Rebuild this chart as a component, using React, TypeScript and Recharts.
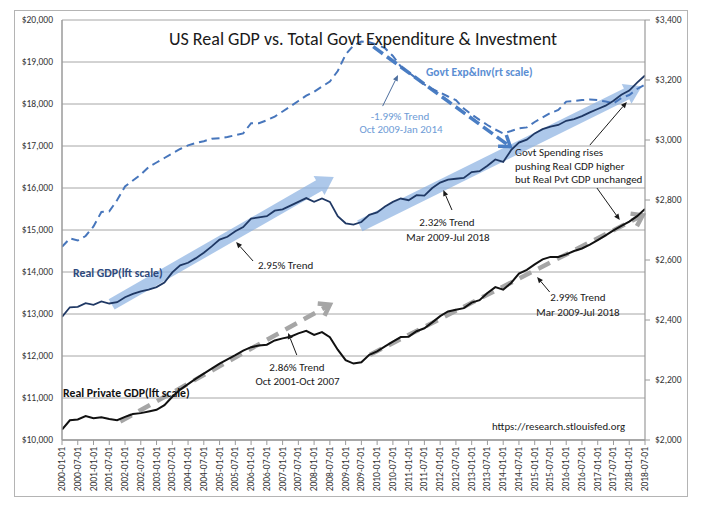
import React from "react";
import { ComposedChart, Line, XAxis, YAxis, CartesianGrid, ReferenceLine } from "recharts";

// Quarterly observation dates, 2000-01-01 through 2018-07-01
const quarters: string[] = [];
for (let y = 2000; y <= 2018; y++) {
  for (const m of ["01", "04", "07", "10"]) quarters.push(`${y}-${m}-01`);
}
quarters.length = 75;

// Real GDP, billions of chained dollars (left scale)
const realGdp = [
  12930, 13160, 13170, 13260, 13220, 13300, 13250, 13280, 13400, 13480,
  13540, 13580, 13640, 13750, 13990, 14160, 14220, 14330, 14460, 14610,
  14770, 14840, 14970, 15070, 15270, 15300, 15330, 15460, 15490, 15580,
  15670, 15760, 15670, 15750, 15670, 15330, 15160, 15130, 15190, 15360,
  15420, 15560, 15670, 15750, 15710, 15830, 15820, 16000, 16130, 16200,
  16220, 16240, 16380, 16400, 16530, 16680, 16620, 16900, 17080, 17150,
  17300, 17400, 17460, 17500, 17600, 17640, 17710, 17800, 17880, 17960,
  18080, 18220, 18320, 18510, 18680,
];

// Real private GDP (left scale)
const realPrivateGdp = [
  10250, 10470, 10490, 10570, 10520, 10540, 10500, 10470, 10550, 10620,
  10640, 10680, 10720, 10830, 11030, 11200, 11330, 11460, 11580, 11700,
  11820, 11920, 12020, 12130, 12210, 12250, 12270, 12370, 12420, 12460,
  12540, 12600, 12500, 12570, 12450, 12150, 11900, 11820, 11850, 12030,
  12110, 12230, 12340, 12450, 12460, 12590, 12660, 12800, 12950, 13060,
  13100, 13140, 13270, 13330, 13500, 13640, 13580, 13740, 13960, 14050,
  14180, 14300, 14360, 14360, 14420, 14500, 14560, 14650, 14760, 14870,
  14990, 15100, 15200, 15330, 15500,
];

// Total government expenditure & investment (right scale)
const govtExpInv = [
  2644, 2672, 2665, 2680, 2712, 2760, 2762, 2800, 2845, 2865,
  2885, 2910, 2925, 2940, 2955, 2970, 2982, 2990, 2996, 3004,
  3006, 3010, 3016, 3022, 3056, 3056, 3066, 3078, 3095, 3112,
  3130, 3148, 3161, 3178, 3195, 3230, 3285, 3315, 3328, 3326,
  3318, 3306, 3280, 3245, 3225, 3205, 3185, 3170, 3158, 3145,
  3133, 3105, 3085, 3067, 3050, 3035, 3022, 3030, 3039, 3042,
  3060, 3075, 3090, 3100, 3128, 3130, 3133, 3135, 3133, 3128,
  3122, 3140, 3150, 3170, 3185,
];

const leftTicks = [10000, 11000, 12000, 13000, 14000, 15000, 16000, 17000, 18000, 19000, 20000];
const rightTicks = [2000, 2200, 2400, 2600, 2800, 3000, 3200, 3400];
const dateTicks = quarters.map((_, i) => i).filter((i) => i % 2 === 0);

type Pt = { x: number; y: number };

// Trend arrows: [start, end] in (quarter index, value)
const gdpTrends: Pt[][] = [
  [{ x: 6.3, y: 13230 }, { x: 34.5, y: 16260 }],
  [{ x: 37.8, y: 15100 }, { x: 73.6, y: 18420 }],
];
const privateTrends: Pt[][] = [
  [{ x: 7.4, y: 10440 }, { x: 34, y: 13220 }],
  [{ x: 39.1, y: 12030 }, { x: 73.7, y: 15350 }],
];
const govtTrend: Pt[] = [{ x: 39.5, y: 3311 }, { x: 56.9, y: 2978 }];

// Callout pointers: [tail, head]
const leftCallouts: Pt[][] = [
  [{ x: 24.25, y: 14262 }, { x: 22.1, y: 14714 }],
  [{ x: 49.5, y: 15476 }, { x: 48.4, y: 15952 }],
  [{ x: 29.8, y: 12024 }, { x: 28.7, y: 12548 }],
  [{ x: 61.9, y: 13524 }, { x: 60.3, y: 13881 }],
  [{ x: 67.9, y: 16000 }, { x: 70.8, y: 15238 }],
];
const rightCallouts: Pt[][] = [
  [{ x: 40.7, y: 3113 }, { x: 42.65, y: 3217 }],
  [{ x: 67.0, y: 2983 }, { x: 71.7, y: 3127 }],
];

const rows = quarters.map((date, i) => ({
  idx: i,
  date,
  gdp: realGdp[i],
  pvt: realPrivateGdp[i],
  govt: govtExpInv[i],
}));

const FONT = "Carlito, Lato, 'Open Sans', sans-serif";

function unit(x1: number, y1: number, x2: number, y2: number) {
  const dx = x2 - x1;
  const dy = y2 - y1;
  const len = Math.hypot(dx, dy) || 1;
  return { ux: dx / len, uy: dy / len, nx: -dy / len, ny: dx / len };
}

function FatArrow(props: any) {
  const { x1, y1, x2, y2 } = props;
  const { ux, uy, nx, ny } = unit(x1, y1, x2, y2);
  const shaft = 12;
  const head = 22;
  const headLen = 17;
  const bx = x2 - ux * headLen;
  const by = y2 - uy * headLen;
  const pts = [
    [x1 + (nx * shaft) / 2, y1 + (ny * shaft) / 2],
    [bx + (nx * shaft) / 2, by + (ny * shaft) / 2],
    [bx + (nx * head) / 2, by + (ny * head) / 2],
    [x2, y2],
    [bx - (nx * head) / 2, by - (ny * head) / 2],
    [bx - (nx * shaft) / 2, by - (ny * shaft) / 2],
    [x1 - (nx * shaft) / 2, y1 - (ny * shaft) / 2],
  ];
  return <polygon points={pts.map((p) => p.join(",")).join(" ")} fill="#8DB3E2" fillOpacity={0.72} />;
}

function makeDashedArrow(color: string, width: number, dash: string, size: number) {
  return (props: any) => {
    const { x1, y1, x2, y2 } = props;
    const { ux, uy, nx, ny } = unit(x1, y1, x2, y2);
    const ex = x2 - ux * width * 0.6;
    const ey = y2 - uy * width * 0.6;
    const ax = x2 - ux * size;
    const ay = y2 - uy * size;
    return (
      <g>
        <line x1={x1} y1={y1} x2={ex} y2={ey} stroke={color} strokeWidth={width} strokeDasharray={dash} />
        <polyline
          points={`${ax + nx * size * 0.7},${ay + ny * size * 0.7} ${x2},${y2} ${ax - nx * size * 0.7},${ay - ny * size * 0.7}`}
          fill="none"
          stroke={color}
          strokeWidth={width}
          strokeLinejoin="miter"
        />
      </g>
    );
  };
}

function makeThinArrow(color: string) {
  return (props: any) => {
    const { x1, y1, x2, y2 } = props;
    const { ux, uy, nx, ny } = unit(x1, y1, x2, y2);
    const L = 6;
    const W = 2.6;
    const bx = x2 - ux * L;
    const by = y2 - uy * L;
    return (
      <g>
        <line x1={x1} y1={y1} x2={bx} y2={by} stroke={color} strokeWidth={1} />
        <polygon
          points={`${x2},${y2} ${bx + nx * W},${by + ny * W} ${bx - nx * W},${by - ny * W}`}
          fill={color}
        />
      </g>
    );
  };
}

const GrayArrow = makeDashedArrow("#A6A6A6", 4.5, "13 8", 10);
const GovtArrow = makeDashedArrow("#4A7EC4", 3.5, "12 5", 10);
const BlackPointer = makeThinArrow("#1a1a1a");
const BluePointer = makeThinArrow("#4D6E9E");

const DateTick = (props: any) => {
  const { x, y, payload } = props;
  return (
    <text
      transform={`translate(${x},${y}) rotate(-90)`}
      textAnchor="end"
      dominantBaseline="central"
      fontSize={9.5}
      fill="#333"
      fontFamily={FONT}
    >
      {quarters[payload.value]}
    </text>
  );
};

const money = (v: number) => "$" + v.toLocaleString("en-US");

type Note = { x: number; y: number; text: string; anchor?: "start" | "middle" | "end"; size?: number; weight?: number; color?: string };
const notes: Note[] = [
  { x: 363, y: 45, text: "US Real GDP vs. Total Govt Expenditure & Investment", anchor: "middle", size: 18, color: "#1a1a1a" },
  { x: 426, y: 76, text: "Govt Exp&Inv(rt scale)", size: 11.5, weight: 700, color: "#5B8ED3" },
  { x: 400, y: 120, text: "-1.99% Trend", anchor: "middle", size: 11, color: "#6E9BD6" },
  { x: 401, y: 133, text: "Oct 2009-Jan 2014", anchor: "middle", size: 11, color: "#6E9BD6" },
  { x: 515, y: 156, text: "Govt Spending rises", size: 11, color: "#1a1a1a" },
  { x: 515, y: 170, text: "pushing Real GDP higher", size: 11, color: "#1a1a1a" },
  { x: 515, y: 183, text: "but Real Pvt GDP unchanged", size: 11, color: "#1a1a1a" },
  { x: 447, y: 226, text: "2.32% Trend", anchor: "middle", size: 11, color: "#1a1a1a" },
  { x: 448, y: 241, text: "Mar 2009-Jul 2018", anchor: "middle", size: 11, color: "#1a1a1a" },
  { x: 258, y: 269, text: "2.95% Trend", size: 11, color: "#1a1a1a" },
  { x: 297, y: 371, text: "2.86% Trend", anchor: "middle", size: 11, color: "#1a1a1a" },
  { x: 297.5, y: 385, text: "Oct 2001-Oct 2007", anchor: "middle", size: 11, color: "#1a1a1a" },
  { x: 578, y: 301, text: "2.99% Trend", anchor: "middle", size: 11, color: "#1a1a1a" },
  { x: 578, y: 315.5, text: "Mar 2009-Jul 2018", anchor: "middle", size: 11, color: "#1a1a1a" },
  { x: 73, y: 277, text: "Real GDP(lft scale)", size: 11.8, weight: 700, color: "#2E4A7D" },
  { x: 63, y: 397, text: "Real Private GDP(lft scale)", size: 11.8, weight: 700, color: "#111" },
  { x: 492, y: 429.5, text: "https://research.stlouisfed.org", size: 10.8, color: "#1a1a1a" },
];

export default function App() {
  return (
    <div style={{ position: "absolute", left: 0, top: 0, width: 701, height: 508, background: "#fff" }}>
      <div
        style={{
          position: "absolute",
          left: 14,
          top: 10,
          width: 674,
          height: 487,
          border: "1px solid #b4b4b4",
          boxSizing: "border-box",
        }}
      />
      <div style={{ position: "absolute", left: 0, top: 0 }}>
        <ComposedChart width={701} height={508} data={rows} margin={{ top: 20, right: 14, bottom: 10, left: 14 }}>
          <CartesianGrid vertical={false} yAxisId="left" stroke="#a6a6a6" strokeWidth={1} />
          <XAxis
            type="number"
            dataKey="idx"
            domain={[0, 74]}
            ticks={dateTicks}
            interval={0}
            tick={<DateTick />}
            height={58}
            tickSize={5}
            tickMargin={2}
            axisLine={{ stroke: "#9a9a9a", strokeWidth: 1.5 }}
            tickLine={{ stroke: "#9a9a9a" }}
            allowDataOverflow
          />
          <YAxis
            yAxisId="left"
            domain={[10000, 20000]}
            ticks={leftTicks}
            interval={0}
            tickFormatter={money}
            width={48}
            tickLine={false}
            tickSize={4}
            tickMargin={5}
            axisLine={{ stroke: "#9a9a9a", strokeWidth: 1.5 }}
            tick={{ fontSize: 9.5, fill: "#333", fontFamily: FONT }}
            allowDataOverflow
          />
          <YAxis
            yAxisId="right"
            orientation="right"
            domain={[2000, 3400]}
            ticks={rightTicks}
            interval={0}
            tickFormatter={money}
            width={42}
            tickSize={5}
            tickMargin={5}
            tickLine={{ stroke: "#9a9a9a" }}
            axisLine={{ stroke: "#9a9a9a", strokeWidth: 1.2 }}
            tick={{ fontSize: 9.5, fill: "#333", fontFamily: FONT }}
            allowDataOverflow
          />

          {gdpTrends.map((seg, i) => (
            <ReferenceLine key={`gt${i}`} yAxisId="left" segment={seg} ifOverflow="visible" shape={FatArrow} />
          ))}
          {privateTrends.map((seg, i) => (
            <ReferenceLine key={`pt${i}`} yAxisId="left" segment={seg} ifOverflow="visible" shape={GrayArrow} />
          ))}
          <ReferenceLine yAxisId="right" segment={govtTrend} ifOverflow="visible" shape={GovtArrow} />

          <Line
            yAxisId="right"
            type="linear"
            dataKey="govt"
            stroke="#4776BC"
            strokeWidth={2}
            strokeDasharray="8 5"
            dot={false}
            isAnimationActive={false}
          />
          <Line
            yAxisId="left"
            type="linear"
            dataKey="pvt"
            stroke="#111"
            strokeWidth={2}
            dot={false}
            isAnimationActive={false}
          />
          <Line
            yAxisId="left"
            type="linear"
            dataKey="gdp"
            stroke="#1F3864"
            strokeWidth={1.8}
            dot={false}
            isAnimationActive={false}
          />

          {leftCallouts.map((seg, i) => (
            <ReferenceLine key={`lc${i}`} yAxisId="left" segment={seg} ifOverflow="visible" shape={BlackPointer} />
          ))}
          <ReferenceLine yAxisId="right" segment={rightCallouts[0]} ifOverflow="visible" shape={BluePointer} />
          <ReferenceLine yAxisId="right" segment={rightCallouts[1]} ifOverflow="visible" shape={BlackPointer} />
        </ComposedChart>
      </div>
      <svg
        width={701}
        height={508}
        style={{ position: "absolute", left: 0, top: 0, pointerEvents: "none" }}
      >
        {notes.map((n, i) => (
          <text
            key={i}
            x={n.x}
            y={n.y}
            textAnchor={n.anchor ?? "start"}
            fontSize={n.size ?? 11}
            fontWeight={n.weight ?? 400}
            fill={n.color ?? "#1a1a1a"}
            fontFamily={FONT}
          >
            {n.text}
          </text>
        ))}
      </svg>
    </div>
  );
}
